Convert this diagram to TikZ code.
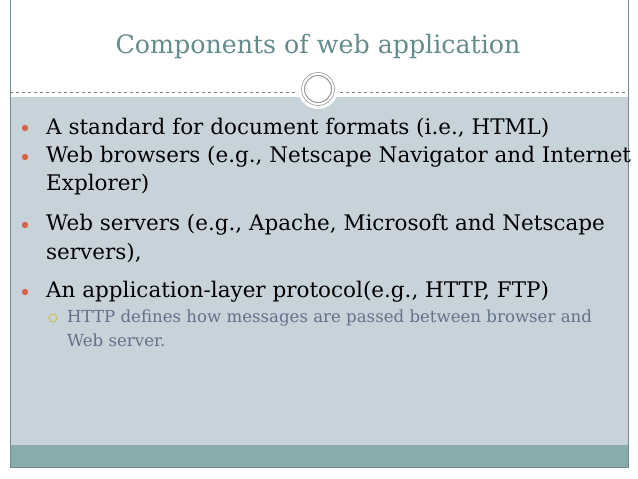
\documentclass[tikz,border=0pt]{standalone}
\usepackage{fontspec}
\setmainfont{DejaVu Serif}
\definecolor{titlec}{RGB}{100,140,140}
\definecolor{bodybg}{RGB}{199,210,217}
\definecolor{barc}{RGB}{136,172,172}
\definecolor{framec}{RGB}{110,140,145}
\definecolor{bulc}{RGB}{215,100,70}
\definecolor{subc}{RGB}{100,112,140}
\definecolor{subb}{RGB}{200,190,90}
\tikzset{
 item/.style={anchor=west,inner sep=0pt,font=\fontsize{21.5}{26}\selectfont,text=black,align=left},
 sub/.style={anchor=west,inner sep=0pt,font=\fontsize{16.6}{22}\selectfont,text=subc,align=left},
}
\begin{document}
\begin{tikzpicture}[x=1pt,y=-1pt]
\useasboundingbox (0,0) rectangle (638,479);
\fill[white] (0,0) rectangle (638,479);
\fill[bodybg] (10,97) rectangle (628,445);
\fill[barc] (10,445) rectangle (628,467);
\draw[framec,line width=0.8pt] (10,0) -- (10,467) -- (628,467) -- (628,0);
\draw[gray,dashed,line width=0.4pt] (10,92) -- (628,92);
\fill[white] (318,89) circle (20);
\draw[gray!80,line width=0.6pt] (318,89) circle (16.5);
\draw[gray!80,line width=1pt] (318,89) circle (13.5);
\node[font=\fontsize{25.3}{30}\selectfont,text=titlec] (title) at (318,47) {Components of web application};
\foreach \y in {128,157,225,292} \fill[bulc] (25,\y) circle (3.2);
\node[item] (a) at (46,128) {A standard for document formats (i.e., HTML)};
\node[item] (b) at (46,157) {Web browsers (e.g., Netscape Navigator and Internet};
\node[item] (b2) at (46,185) {Explorer)};
\node[item] (c) at (46,225) {Web servers (e.g., Apache, Microsoft and Netscape};
\node[item] (c2) at (46,253) {servers),};
\node[item] (d) at (46,292) {An application-layer protocol(e.g., HTTP, FTP)};
\draw[subb,line width=1pt] (53,318) circle (4);
\node[sub] (e) at (67,318) {HTTP defines how messages are passed between browser and};
\node[sub] (e2) at (67,340) {Web server.};
\end{tikzpicture}
\end{document}
